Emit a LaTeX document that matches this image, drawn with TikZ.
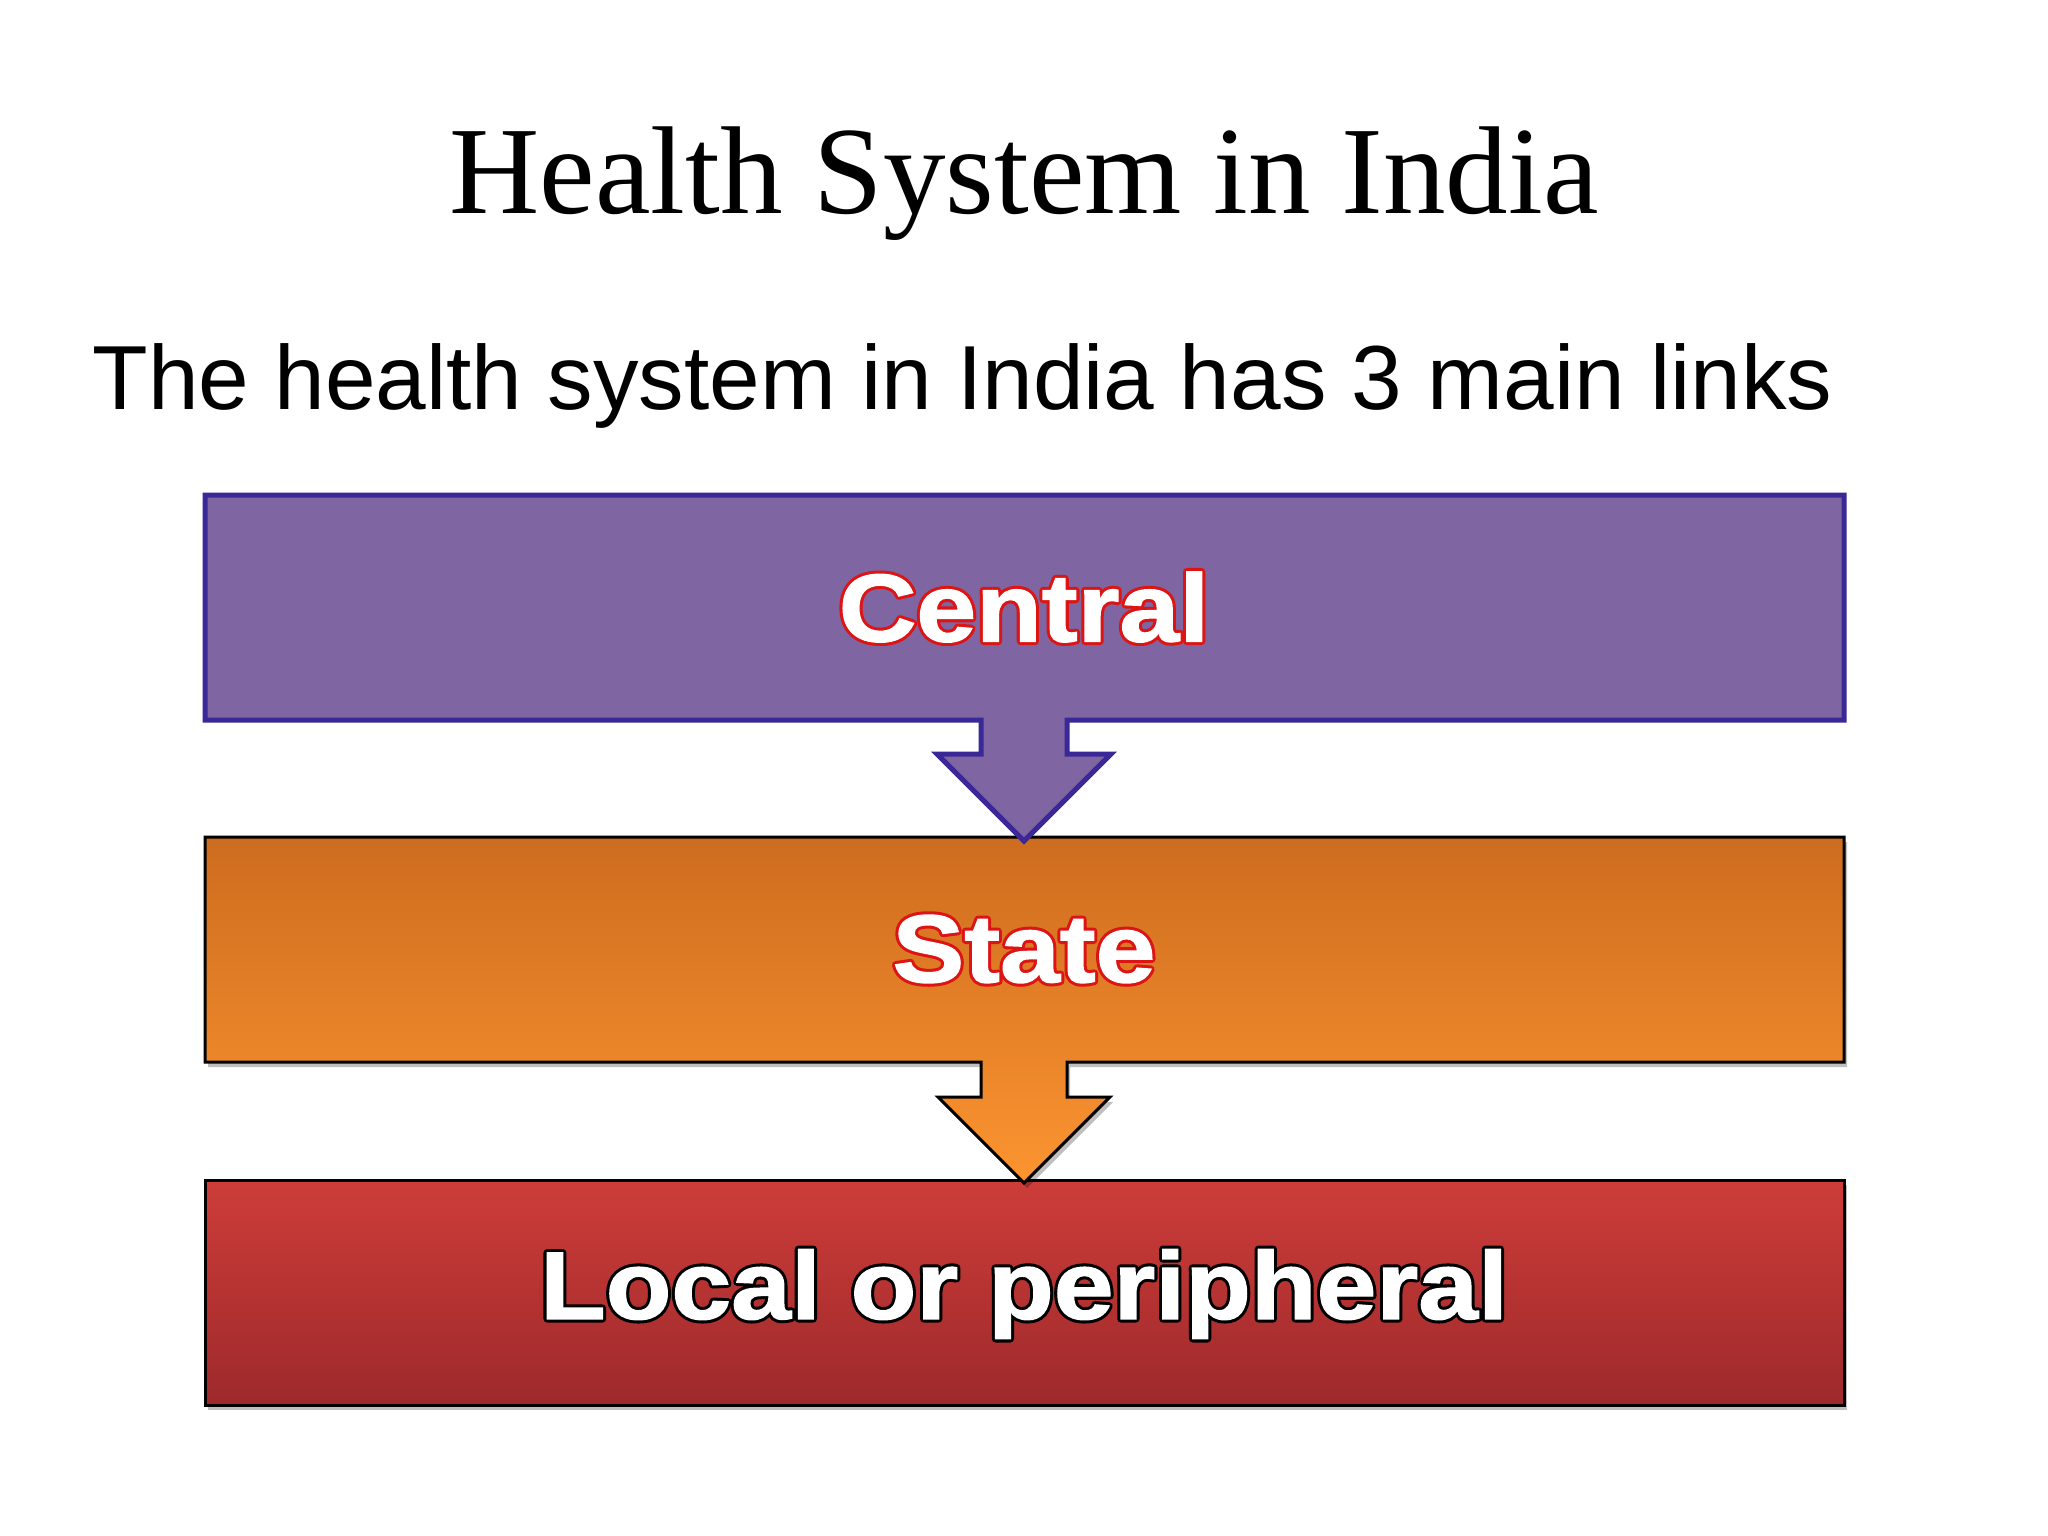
\documentclass[tikz,border=0pt]{standalone}
\usepackage{fontspec}
\setmainfont{Liberation Serif}
\newfontfamily\subfont{Liberation Sans}
\newfontfamily\boxfont[FakeStretch=1.12,FakeBold=1.5]{Liberation Sans Bold}
\newfontfamily\boxbase[FakeStretch=1.12]{Liberation Sans Bold}
\usetikzlibrary{shadows}
\definecolor{cfill}{RGB}{127,101,161}
\definecolor{cline}{RGB}{58,40,150}
\definecolor{stop}{RGB}{205,108,31}
\definecolor{sbot}{RGB}{252,148,48}
\definecolor{ltop}{RGB}{205,61,57}
\definecolor{lbot}{RGB}{158,41,43}
\definecolor{outred}{RGB}{220,20,20}
\newcommand{\stroked}[1]{\special{pdf:literal q 2 Tr 7.5 w 1 J 1 j}#1\special{pdf:literal Q}}
\tikzset{
  lvl/.style={line join=miter},
  shad/.style={drop shadow={shadow xshift=3pt,shadow yshift=-5pt,opacity=0.25,fill=black}},
  lbl/.style={font=\boxfont\fontsize{96}{100}\selectfont, text=white, anchor=center},
  lblout/.style={font=\boxbase\fontsize{96}{100}\selectfont, anchor=center},
}
\begin{document}
\begin{tikzpicture}[x=1pt,y=-1pt]
\useasboundingbox[fill=white] (0,0) rectangle (2048,1536);
% Title
\node[font=\fontsize{125}{130}\selectfont, anchor=base] (title) at (1024,213) {Health System in India};
\node[font=\subfont\fontsize{91}{100}\selectfont, anchor=base west] (sub) at (89,409) {The health system in India has 3 main links};
% Local box
\path[shad, draw=black, line width=3pt, top color=ltop, bottom color=lbot]
  (205,1180) rectangle (1844,1405);
% State box with arrow
\path[shad, draw=black, line width=3pt, lvl, top color=stop, bottom color=sbot]
  (205,837) -- (1844,837) -- (1844,1062) -- (1067,1062) -- (1067,1097) -- (1110,1097)
  -- (1024,1183) -- (938,1097) -- (981,1097) -- (981,1062) -- (205,1062) -- cycle;
% Central box with arrow
\path[draw=cline, fill=cfill, line width=5pt, lvl]
  (205,495) -- (1844,495) -- (1844,720) -- (1067,720) -- (1067,754) -- (1111,754)
  -- (1024,841) -- (937,754) -- (981,754) -- (981,720) -- (205,720) -- cycle;
% Label outlines
\node[lblout, text=outred] (central-o) at (1024,607) {\stroked{Central}};
\node[lblout, text=outred] (state-o) at (1024,949) {\stroked{State}};
\node[lblout, text=black] (local-o) at (1024,1294) {\stroked{Local or peripheral}};
% Labels
\node[lbl] (central) at (1024,607) {Central};
\node[lbl] (state) at (1024,949) {State};
\node[lbl] (local) at (1024,1294) {Local or peripheral};
\end{tikzpicture}
\end{document}
